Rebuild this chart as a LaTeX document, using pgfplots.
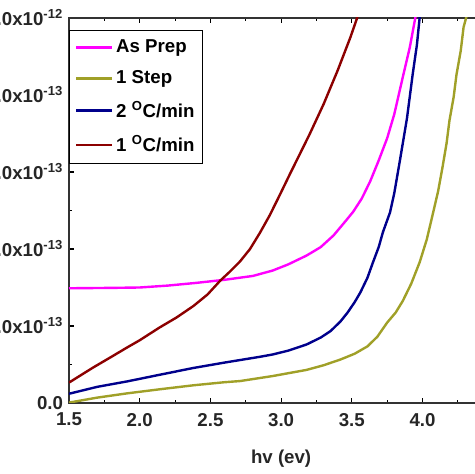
\documentclass[border=0pt]{standalone}
\usepackage{fontspec}
\setmainfont{Liberation Sans}
\usepackage{pgfplots}
\pgfplotsset{compat=1.18}
\definecolor{cMag}{RGB}{255,0,255}
\definecolor{cOli}{RGB}{160,160,40}
\definecolor{cNav}{RGB}{0,0,140}
\definecolor{cRed}{RGB}{140,0,0}
\begin{document}
\begin{tikzpicture}
\begin{axis}[
  scale only axis,
  width=318.2pt, height=288.75pt,
  xmin=1.5, xmax=4.5, ymin=0, ymax=10,
  xtick={1.5,2.0,2.5,3.0,3.5,4.0,4.5},
  xticklabels={1.5,2.0,2.5,3.0,3.5,4.0,{}},
  minor x tick num=1,
  ytick={0,2,4,6,8,10},
  yticklabels={0.0, 2.0x10\textsuperscript{-13}, 4.0x10\textsuperscript{-13}, 6.0x10\textsuperscript{-13}, 8.0x10\textsuperscript{-13}, 1.0x10\textsuperscript{-12}},
  minor y tick num=1,
  tick align=inside,
  major tick length=4pt, minor tick length=2.5pt,
  tick style={black, line width=0.8pt},
  axis line style={line width=1pt, black!80},
  ticklabel style={font=\bfseries\fontsize{14}{14}\selectfont, text=black!85},
  xticklabel style={yshift=-4pt},
  yticklabel style={xshift=-1pt},
  /pgf/number format/assume math mode=true,
  xlabel={hv (ev)},
  xlabel style={font=\bfseries\fontsize{14}{14}\selectfont, text=black!85, yshift=-11pt},
  legend style={at={(rel axis cs:0,1)}, anchor=north west, yshift=-9pt,
    draw=black, line width=0.8pt, fill=white,
    font=\bfseries\fontsize{14}{14}\selectfont,
    row sep=8pt, inner xsep=4pt, inner ysep=5pt},
  legend cell align=left,
  legend image code/.code={\draw[#1, line width=2pt] (0pt,0pt) -- (27pt,0pt);},
  every axis plot/.append style={line width=1.8pt},
]
\coordinate (LL) at (rel axis cs:0,0);
\coordinate (UL) at (rel axis cs:0,1);
\addplot[cMag] coordinates {
(1.5,2.98) (1.8,2.99) (2.0,3.00) (2.2,3.05) (2.4,3.12) (2.6,3.20) (2.8,3.30)
(2.94,3.44) (3.05,3.60) (3.18,3.83) (3.28,4.05) (3.37,4.35) (3.45,4.70)
(3.51,4.97) (3.57,5.31) (3.63,5.76) (3.69,6.30) (3.75,6.88) (3.80,7.50)
(3.86,8.46) (3.91,9.24) (3.95,10.03) (3.97,10.5)};
\addlegendentry{As Prep}
\addplot[cOli] coordinates {
(1.5,0.01) (1.7,0.14) (1.91,0.25) (2.15,0.36) (2.38,0.46) (2.6,0.54)
(2.71,0.57) (2.94,0.70) (3.18,0.86) (3.30,0.98) (3.42,1.13) (3.52,1.28)
(3.61,1.47) (3.68,1.72) (3.75,2.09) (3.81,2.35) (3.86,2.65) (3.92,3.10)
(3.98,3.66) (4.03,4.25) (4.07,4.87) (4.11,5.50) (4.14,6.10) (4.17,6.75)
(4.19,7.33) (4.22,7.95) (4.24,8.53) (4.27,9.15) (4.29,9.76) (4.31,10.03) (4.32,10.4)};
\addlegendentry{ 1 Step}
\addplot[cNav] coordinates {
(1.5,0.24) (1.7,0.42) (1.91,0.56) (2.15,0.74) (2.38,0.91) (2.6,1.05)
(2.85,1.20) (2.94,1.26) (3.05,1.36) (3.18,1.52) (3.28,1.70) (3.35,1.87)
(3.42,2.12) (3.47,2.35) (3.52,2.62) (3.56,2.87) (3.61,3.25) (3.65,3.66)
(3.69,4.05) (3.72,4.44) (3.77,4.95) (3.80,5.45) (3.84,6.30) (3.89,7.40)
(3.93,8.53) (3.96,9.30) (3.98,10.03) (3.99,10.4)};
\addlegendentry{ 2 \textsuperscript{O}C/min}
\addplot[cRed] coordinates {
(1.5,0.53) (1.67,0.92) (1.8,1.20) (1.91,1.44) (2.0,1.63) (2.14,1.96)
(2.26,2.22) (2.38,2.52) (2.48,2.82) (2.57,3.18) (2.64,3.42) (2.71,3.68)
(2.78,4.00) (2.85,4.42) (2.92,4.88) (2.99,5.40) (3.06,5.93) (3.13,6.45)
(3.20,6.97) (3.30,7.76) (3.40,8.64) (3.49,9.50) (3.54,10.03) (3.56,10.3)};
\addlegendentry{ 1 \textsuperscript{O}C/min}
\end{axis}
\pgfresetboundingbox
\path[use as bounding box] ([shift={(-51.75pt,-53.25pt)}]LL) rectangle ([shift={(303.75pt,13.5pt)}]UL);
\end{tikzpicture}
\end{document}
